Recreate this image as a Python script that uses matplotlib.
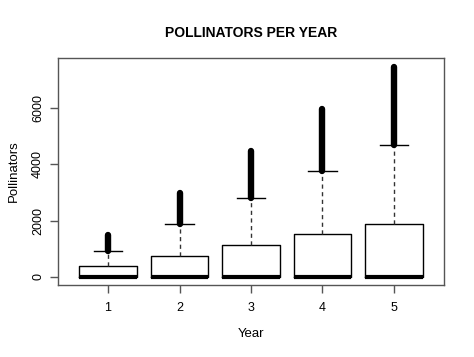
import matplotlib
matplotlib.use('Agg')
import matplotlib.pyplot as plt
import numpy as np

# values
years = [1, 2, 3, 4, 5]
q1 = [0, 0, 0, 0, 0]
medians = [0, 0, 0, 0, 0]
q3 = [360, 730, 1130, 1510, 1880]
whisker_top = [910, 1870, 2810, 3770, 4680]
outlier_max = [1480, 2970, 4470, 5970, 7470]

plt.rcParams['font.family'] = ['Liberation Sans', 'DejaVu Sans']

fig = plt.figure(figsize=(4.74, 3.57), dpi=100)
ax = fig.add_axes([0.1224, 0.2017, 0.8143, 0.6358])

stats = []
for i in range(len(years)):
    stats.append({'med': medians[i], 'q1': q1[i], 'q3': q3[i],
                  'whislo': q1[i], 'whishi': whisker_top[i], 'fliers': []})

ax.bxp(stats, positions=years, widths=0.8, showfliers=False,
       boxprops=dict(color='black', linewidth=1),
       medianprops=dict(color='black', linewidth=3, solid_capstyle='butt'),
       whiskerprops=dict(color='#333333', linewidth=1, linestyle=(0, (3, 2.5))),
       capprops=dict(color='black', linewidth=1),
       capwidths=0.4)

# dense outliers look like a thick bar from whisker top to max
for x, lo, hi in zip(years, whisker_top, outlier_max):
    ax.plot([x, x], [lo, hi], color='black', linewidth=4.6,
            solid_capstyle='round', zorder=3)

ax.set_xlim(0.3, 5.7)
ax.set_ylim(-300, 7800)
ax.set_xticks(years)
ax.set_xticklabels([str(y) for y in years])
ax.set_yticks([0, 2000, 4000, 6000])
ax.set_yticklabels(['0', '2000', '4000', '6000'], rotation=90, va='center')

for s in ax.spines.values():
    s.set_color('#555555')
    s.set_linewidth(1)
ax.tick_params(axis='both', length=6, width=1, color='#555555',
               labelsize=9, pad=4)
ax.tick_params(axis='x', pad=6)

ax.set_title('POLLINATORS PER YEAR', fontsize=10, fontweight='bold', pad=15)
ax.set_xlabel('Year', fontsize=9.5, labelpad=10)
ax.set_ylabel('Pollinators', fontsize=9.5, labelpad=9)

fig.savefig('out.png', dpi=100)
